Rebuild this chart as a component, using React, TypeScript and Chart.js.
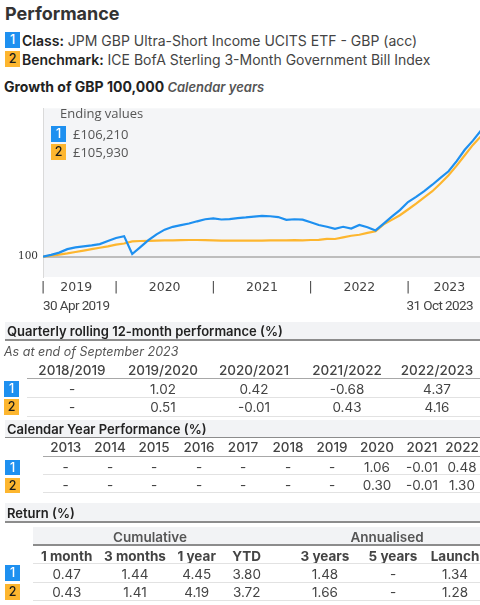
import React, { useEffect, useRef } from "react";
import { Chart, registerables } from "chart.js";

Chart.register(...registerables);

// ---- Data ----
const monthLabels = [
  "Apr 2019", "May 2019", "Jun 2019", "Jul 2019", "Aug 2019", "Sep 2019", "Oct 2019", "Nov 2019", "Dec 2019",
  "Jan 2020", "Feb 2020", "Mar 2020", "Apr 2020", "May 2020", "Jun 2020", "Jul 2020", "Aug 2020", "Sep 2020", "Oct 2020", "Nov 2020", "Dec 2020",
  "Jan 2021", "Feb 2021", "Mar 2021", "Apr 2021", "May 2021", "Jun 2021", "Jul 2021", "Aug 2021", "Sep 2021", "Oct 2021", "Nov 2021", "Dec 2021",
  "Jan 2022", "Feb 2022", "Mar 2022", "Apr 2022", "May 2022", "Jun 2022", "Jul 2022", "Aug 2022", "Sep 2022", "Oct 2022", "Nov 2022", "Dec 2022",
  "Jan 2023", "Feb 2023", "Mar 2023", "Apr 2023", "May 2023", "Jun 2023", "Jul 2023", "Aug 2023", "Sep 2023", "Oct 2023",
];

const classValues = [
  100.0, 100.09, 100.2, 100.37, 100.46, 100.51, 100.56, 100.62, 100.77,
  100.92, 101.01, 100.13, 100.47, 100.81, 101.1, 101.33, 101.47, 101.55, 101.63, 101.74, 101.84,
  101.88, 101.83, 101.85, 101.9, 101.93, 101.97, 102.01, 101.99, 101.95, 101.81, 101.84, 101.82,
  101.69, 101.56, 101.47, 101.37, 101.47, 101.38, 101.56, 101.45, 101.29, 101.63, 101.97, 102.29,
  102.69, 102.94, 103.23, 103.54, 103.88, 104.2, 104.7, 105.26, 105.71, 106.21,
];

const benchmarkValues = [
  100.0, 100.05, 100.1, 100.16, 100.23, 100.3, 100.37, 100.44, 100.51,
  100.59, 100.65, 100.75, 100.77, 100.78, 100.79, 100.8, 100.8, 100.81, 100.82, 100.82, 100.81,
  100.8, 100.79, 100.79, 100.79, 100.79, 100.79, 100.79, 100.8, 100.8, 100.8, 100.81, 100.8,
  100.82, 100.83, 100.88, 100.87, 100.95, 101.03, 101.08, 101.17, 101.25, 101.59, 101.81, 102.04,
  102.32, 102.61, 102.92, 103.22, 103.6, 104.01, 104.48, 104.99, 105.5, 105.93,
];

const xTickPositions = [0, 4.1, 9, 15, 21, 27, 33, 39, 45, 50.1];
const xTickLabels = ["|", "2019", "|", "2020", "|", "2021", "|", "2022", "|", "2023"];
const yTickValues = [100];
const startDateLabel = "30 Apr 2019";
const endDateLabel = "31 Oct 2023";
const endingValues = ["£106,210", "£105,930"];

const rollingPeriods = ["2018/2019", "2019/2020", "2020/2021", "2021/2022", "2022/2023"];
const rollingClass = ["-", "1.02", "0.42", "-0.68", "4.37"];
const rollingBenchmark = ["-", "0.51", "-0.01", "0.43", "4.16"];

const calendarYears = ["2013", "2014", "2015", "2016", "2017", "2018", "2019", "2020", "2021", "2022"];
const calendarClass = ["-", "-", "-", "-", "-", "-", "-", "1.06", "-0.01", "0.48"];
const calendarBenchmark = ["-", "-", "-", "-", "-", "-", "-", "0.30", "-0.01", "1.30"];

const returnPeriods = ["1 month", "3 months", "1 year", "YTD", "3 years", "5 years", "Launch"];
const returnClass = ["0.47", "1.44", "4.45", "3.80", "1.48", "-", "1.34"];
const returnBenchmark = ["0.43", "1.41", "4.19", "3.72", "1.66", "-", "1.28"];

// ---- Styles ----
const BLUE = "#1E90F0";
const ORANGE = "#FDB62F";
const FONT = "Inter, 'Noto Sans', sans-serif";

type TProps = {
  x: number;
  y: number;
  align?: "left" | "center" | "right";
  w?: number;
  style?: React.CSSProperties;
  children?: React.ReactNode;
};

const T = ({ x, y, align = "left", w = 300, style, children }: TProps) => {
  const left = align === "left" ? x : align === "center" ? x - w / 2 : x - w;
  return (
    <div
      style={{
        position: "absolute",
        left,
        top: y - 10,
        width: w,
        height: 20,
        lineHeight: "20px",
        textAlign: align,
        whiteSpace: "nowrap",
        fontFamily: FONT,
        fontSize: 13,
        color: "#333",
        ...style,
      }}
    >
      {children}
    </div>
  );
};

const Badge = ({ x, y, n, h = 16 }: { x: number; y: number; n: 1 | 2; h?: number }) => (
  <div
    style={{
      position: "absolute",
      left: x,
      top: y,
      width: 15,
      height: h,
      background: n === 1 ? BLUE : ORANGE,
      color: n === 1 ? "#fff" : "#1a1a1a",
      fontFamily: FONT,
      fontSize: 12.5,
      fontWeight: 500,
      lineHeight: h + "px",
      textAlign: "center",
    }}
  >
    {n}
  </div>
);

const Rect = ({ x, y, w, h, bg }: { x: number; y: number; w: number; h: number; bg: string }) => (
  <div style={{ position: "absolute", left: x, top: y, width: w, height: h, background: bg }} />
);

const HEADER_BG = "#F2F3F5";
const DARK_LINE = "#8C8C8C";
const MID_LINE = "#A8A8A8";
const LIGHT_LINE = "#E2E2E2";

const GrowthChart = () => {
  const ref = useRef<HTMLCanvasElement | null>(null);
  useEffect(() => {
    if (!ref.current) return;
    const bgPlugin = {
      id: "plotBg",
      beforeDraw(chart: any) {
        const { ctx, chartArea } = chart;
        ctx.save();
        ctx.fillStyle = "#F4F5F7";
        ctx.fillRect(chartArea.left, chartArea.top, chartArea.right - chartArea.left, chartArea.bottom - chartArea.top);
        ctx.restore();
      },
    };
    const chart = new Chart(ref.current, {
      type: "line",
      data: {
        labels: monthLabels,
        datasets: [
          {
            label: "Class",
            data: classValues.map((v, i) => ({ x: i, y: v })),
            borderColor: BLUE,
            borderWidth: 2.2,
            pointRadius: 0,
            tension: 0,
            order: 1,
          },
          {
            label: "Benchmark",
            data: benchmarkValues.map((v, i) => ({ x: i, y: v })),
            borderColor: ORANGE,
            borderWidth: 2.2,
            pointRadius: 0,
            tension: 0,
            order: 2,
          },
        ],
      },
      options: {
        animation: false,
        responsive: false,
        maintainAspectRatio: false,
        layout: { padding: { top: 2, left: 0, right: 0, bottom: 0 } },
        plugins: { legend: { display: false }, tooltip: { enabled: false } },
        scales: {
          x: {
            type: "linear",
            min: 0,
            max: monthLabels.length - 1,
            afterBuildTicks: (axis: any) => {
              axis.ticks = xTickPositions.map((v) => ({ value: v }));
            },
            afterFit: (axis: any) => {
              axis.height = 23;
            },
            grid: { display: false, drawTicks: false },
            border: { display: false },
            ticks: {
              autoSkip: false,
              maxRotation: 0,
              padding: 3,
              color: "#444",
              font: { family: "'DejaVu Sans'", size: 12.5 },
              callback: (_v: any, i: number) => xTickLabels[i],
            },
          },
          y: {
            min: 99,
            max: 107.3,
            afterBuildTicks: (axis: any) => {
              axis.ticks = yTickValues.map((v) => ({ value: v }));
            },
            afterFit: (axis: any) => {
              axis.width = 43;
            },
            grid: { color: "#BDBDBD", lineWidth: 2, drawTicks: false },
            border: { display: true, color: "#DADADA", width: 1 },
            ticks: {
              padding: 5,
              color: "#333",
              font: { family: "'DejaVu Serif'", size: 10.5 },
              callback: (v: any) => String(v),
            },
          },
        },
      },
      plugins: [bgPlugin],
    } as any);
    return () => chart.destroy();
  }, []);
  return (
    <canvas
      ref={ref}
      width={481}
      height={203}
      style={{ position: "absolute", left: 0, top: 97, width: 481, height: 203 }}
    />
  );
};

const rollingCols = [72, 163, 254, 347, 437];
const calendarCols = [65.7, 110, 154, 199, 243, 288, 332, 377, 422, 462];
const returnCols = [66.7, 135, 196.7, 246.7, 325, 393, 455];

const valStyle: React.CSSProperties = { color: "#444", fontSize: 13.5 };
const headStyle: React.CSSProperties = { color: "#444", fontSize: 13.5, fontWeight: 500 };

export default function App() {
  return (
    <div
      style={{
        position: "absolute",
        left: 0,
        top: 0,
        width: 480,
        height: 605,
        overflow: "hidden",
        background: "#fff",
        fontFamily: FONT,
      }}
    >
      {/* Title */}
      <T x={5} y={14} style={{ fontSize: 18, fontWeight: 700, color: "#333" }}>
        Performance
      </T>
      <Badge x={5} y={32} n={1} />
      <T x={22} y={40.5} style={{ fontSize: 14, color: "#444" }}>
        <b style={{ color: "#222", fontWeight: 600 }}>Class:</b> JPM GBP Ultra-Short Income UCITS ETF - GBP (acc)
      </T>
      <Badge x={5} y={51} n={2} />
      <T x={22} y={59.5} style={{ fontSize: 14, color: "#444" }}>
        <b style={{ color: "#222", fontWeight: 600 }}>Benchmark:</b> ICE BofA Sterling 3-Month Government Bill Index
      </T>
      <T x={4} y={87} style={{ fontSize: 14, fontWeight: 700, color: "#222" }}>
        Growth of GBP 100,000{" "}
        <span style={{ fontStyle: "italic", fontWeight: 600, color: "#555", fontSize: 13 }}>Calendar years</span>
      </T>

      {/* Chart */}
      <GrowthChart />
      <T x={60} y={113} style={{ fontFamily: "'Open Sans'", fontSize: 13, color: "#555" }}>
        Ending values
      </T>
      <Badge x={51} y={126} n={1} />
      <T x={73} y={133.5} style={{ fontFamily: "'Open Sans'", fontSize: 13, color: "#555" }}>
        {endingValues[0]}
      </T>
      <Badge x={51} y={144} n={2} />
      <T x={73} y={151.5} style={{ fontFamily: "'Open Sans'", fontSize: 13, color: "#555" }}>
        {endingValues[1]}
      </T>
      <T x={43} y={305} style={{ fontFamily: "Roboto", fontSize: 13.5, letterSpacing: -0.6, color: "#444" }}>
        {startDateLabel}
      </T>
      <T x={473} y={305} align="right" style={{ fontFamily: "Roboto", fontSize: 13.5, letterSpacing: -0.6, color: "#444" }}>
        {endDateLabel}
      </T>

      {/* Table 1 */}
      <Rect x={5} y={322} w={480} h={17} bg={HEADER_BG} />
      <Rect x={5} y={339} w={480} h={1.5} bg={DARK_LINE} />
      <T x={7} y={331} style={{ fontWeight: 600, color: "#222" }}>
        Quarterly rolling 12-month performance (%)
      </T>
      <T x={4} y={352} style={{ fontStyle: "italic", color: "#555", fontSize: 12.5 }}>
        As at end of September 2023
      </T>
      {rollingPeriods.map((p, i) => (
        <T key={"rp" + i} x={rollingCols[i]} y={370} align="center" w={90} style={headStyle}>
          {p}
        </T>
      ))}
      <Rect x={27} y={378} w={460} h={1.2} bg={MID_LINE} />
      <Badge x={4} y={381} n={1} h={16} />
      {rollingClass.map((v, i) => (
        <T key={"rc" + i} x={rollingCols[i]} y={389} align="center" w={90} style={valStyle}>
          {v}
        </T>
      ))}
      <Rect x={27} y={397} w={460} h={1} bg={LIGHT_LINE} />
      <Badge x={4} y={399} n={2} h={16} />
      {rollingBenchmark.map((v, i) => (
        <T key={"rb" + i} x={rollingCols[i]} y={407} align="center" w={90} style={valStyle}>
          {v}
        </T>
      ))}
      <Rect x={27} y={416} w={460} h={1} bg={LIGHT_LINE} />

      {/* Table 2 */}
      <Rect x={5} y={420} w={480} h={16.5} bg={HEADER_BG} />
      <Rect x={5} y={436.5} w={480} h={1.5} bg={DARK_LINE} />
      <T x={7} y={429} style={{ fontWeight: 600, color: "#222" }}>
        Calendar Year Performance (%)
      </T>
      {calendarYears.map((p, i) => (
        <T key={"cy" + i} x={calendarCols[i]} y={447.3} align="center" w={44} style={headStyle}>
          {p}
        </T>
      ))}
      <Rect x={43} y={455.5} w={440} h={1.2} bg={MID_LINE} />
      <Badge x={5} y={459.5} n={1} h={15} />
      {calendarClass.map((v, i) => (
        <T key={"cc" + i} x={calendarCols[i]} y={466.7} align="center" w={44} style={valStyle}>
          {v}
        </T>
      ))}
      <Rect x={43} y={474.3} w={440} h={1} bg={LIGHT_LINE} />
      <Badge x={5} y={477.5} n={2} h={15} />
      {calendarBenchmark.map((v, i) => (
        <T key={"cb" + i} x={calendarCols[i]} y={485} align="center" w={44} style={valStyle}>
          {v}
        </T>
      ))}
      <Rect x={43} y={492.3} w={440} h={1} bg={LIGHT_LINE} />

      {/* Table 3 */}
      <Rect x={5} y={503} w={480} h={18.5} bg={HEADER_BG} />
      <Rect x={5} y={521.3} w={480} h={1.5} bg={DARK_LINE} />
      <T x={7} y={513} style={{ fontWeight: 600, color: "#222" }}>
        Return (%)
      </T>
      <Rect x={33} y={527} w={460} h={17.5} bg={HEADER_BG} />
      <Rect x={33} y={544.3} w={460} h={1.5} bg={DARK_LINE} />
      <T x={150} y={536.5} align="center" w={120} style={{ ...headStyle, color: "#555", fontWeight: 600 }}>
        Cumulative
      </T>
      <T x={387} y={536.5} align="center" w={120} style={{ ...headStyle, color: "#555", fontWeight: 600 }}>
        Annualised
      </T>
      {returnPeriods.map((p, i) => (
        <T key={"rp3" + i} x={returnCols[i]} y={556} align="center" w={80} style={{ ...headStyle, fontWeight: 700 }}>
          {p}
        </T>
      ))}
      <Rect x={33} y={563} w={460} h={1} bg={LIGHT_LINE} />
      <Badge x={5} y={564.5} n={1} h={16} />
      {returnClass.map((v, i) => (
        <T key={"r3c" + i} x={returnCols[i]} y={574.3} align="center" w={80} style={valStyle}>
          {v}
        </T>
      ))}
      <Rect x={33} y={581.7} w={460} h={1} bg={LIGHT_LINE} />
      <Badge x={5} y={583.5} n={2} h={16} />
      {returnBenchmark.map((v, i) => (
        <T key={"r3b" + i} x={returnCols[i]} y={592.3} align="center" w={80} style={valStyle}>
          {v}
        </T>
      ))}
      <Rect x={33} y={599.5} w={460} h={1} bg={LIGHT_LINE} />
    </div>
  );
}
